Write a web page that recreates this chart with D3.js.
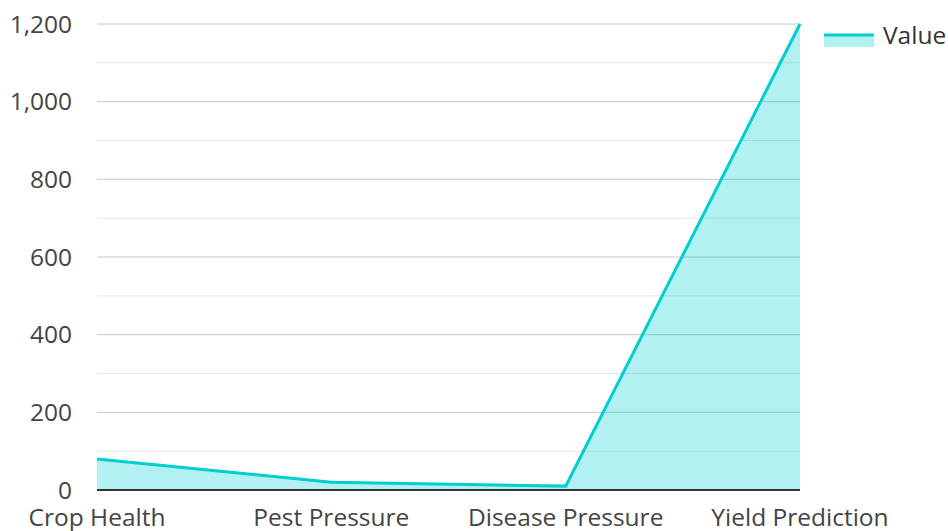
<!DOCTYPE html>
<html><head><meta charset="utf-8">
<script src="https://cdn.jsdelivr.net/npm/d3@7"></script>
<style>body{margin:0;background:#fff;} svg{display:block;font-family:"Open Sans",sans-serif;}</style>
</head><body><svg id="c" width="948" height="531"></svg>
<script>
const categories = ["Crop Health","Pest Pressure","Disease Pressure","Yield Prediction"];
const values = [80, 20, 10, 1200];
const majorTicks = [0,200,400,600,800,1000,1200];
const minorTicks = [100,300,500,700,900,1100];
const seriesName = "Value";

const svg = d3.select("#c");
const L=97, R=800, T=24, B=490;
const x = d3.scalePoint().domain(categories).range([L,R]).padding(0);
const y = d3.scaleLinear().domain([0,1200]).range([B,T]);
const color = "#00CED1";
const fs = 24.5;

svg.append("g").selectAll("line").data(minorTicks).join("line")
  .attr("x1",L).attr("x2",R).attr("y1",d=>y(d)).attr("y2",d=>y(d))
  .attr("stroke","#e6e6e6").attr("stroke-width",1);
svg.append("g").selectAll("line").data(majorTicks.filter(d=>d>0)).join("line")
  .attr("x1",L).attr("x2",R).attr("y1",d=>y(d)).attr("y2",d=>y(d))
  .attr("stroke","#c8c8c8").attr("stroke-width",1);

const data = categories.map((c,i)=>({c,v:values[i]}));
svg.append("path").datum(data)
  .attr("d", d3.area().x(d=>x(d.c)).y0(y(0)).y1(d=>y(d.v)))
  .attr("fill",color).attr("fill-opacity",0.3);
svg.append("path").datum(data)
  .attr("d", d3.line().x(d=>x(d.c)).y(d=>y(d.v)))
  .attr("fill","none").attr("stroke",color).attr("stroke-width",3);

svg.append("line").attr("x1",L).attr("x2",R).attr("y1",B).attr("y2",B)
  .attr("stroke","#333").attr("stroke-width",2);

const fmt = d3.format(",");
svg.append("g").selectAll("text").data(majorTicks).join("text")
  .attr("x",72).attr("y",d=>y(d)).attr("dy","0.35em").attr("text-anchor","end")
  .attr("font-size",fs).attr("fill","#444").text(d=>fmt(d));
svg.append("g").selectAll("text").data(categories).join("text")
  .attr("x",d=>x(d)).attr("y",526).attr("text-anchor","middle")
  .attr("font-size",fs).attr("fill","#444").text(d=>d);

const lg = svg.append("g");
lg.append("rect").attr("x",824).attr("y",35).attr("width",50).attr("height",12).attr("fill",color).attr("fill-opacity",0.3);
lg.append("line").attr("x1",824).attr("x2",874).attr("y1",35).attr("y2",35).attr("stroke",color).attr("stroke-width",3);
lg.append("text").attr("x",883).attr("y",35).attr("dy","0.35em").attr("font-size",fs).attr("fill","#333").text(seriesName);
</script></body></html>
